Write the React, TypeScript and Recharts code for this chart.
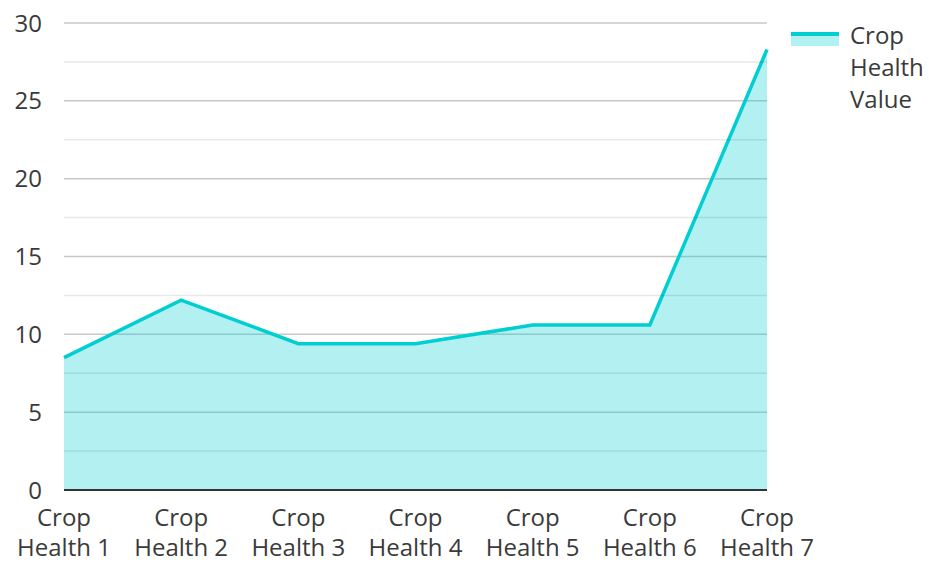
import React from 'react';
import { AreaChart, Area, XAxis, YAxis, CartesianGrid, Legend, ReferenceLine } from 'recharts';

const categories = ['Crop Health 1', 'Crop Health 2', 'Crop Health 3', 'Crop Health 4', 'Crop Health 5', 'Crop Health 6', 'Crop Health 7'];
const healthValues = [8.5, 12.2, 9.4, 9.4, 10.6, 10.6, 28.3];
const majorTicks = [0, 5, 10, 15, 20, 25, 30];
const minorTicks = [2.5, 7.5, 12.5, 17.5, 22.5, 27.5];

const data = categories.map((name, i) => ({ name, value: healthValues[i] }));

const FONT = '"Open Sans", "Noto Sans", sans-serif';
const TEXT = '#3a3a3a';
const LINE = '#00CED1';

const XTick = (props: any) => {
  const { x, y, payload } = props;
  const words = String(payload.value).split(' ');
  const first = words[0];
  const rest = words.slice(1).join(' ');
  return (
    <text x={x} y={y} textAnchor="middle" fill={TEXT} fontSize={24} fontFamily={FONT}>
      <tspan x={x} dy={28}>{first}</tspan>
      <tspan x={x} dy={30}>{rest}</tspan>
    </text>
  );
};

const LegendContent = () => (
  <div style={{ display: 'flex', alignItems: 'flex-start', fontFamily: FONT, fontSize: 24, color: TEXT }}>
    <svg width={50} height={30} style={{ marginTop: 6 }}>
      <rect x={1} y={10} width={48} height={12} fill={LINE} fillOpacity={0.3} />
      <line x1={1} y1={10} x2={49} y2={10} stroke={LINE} strokeWidth={4} />
    </svg>
    <div style={{ marginLeft: 10, lineHeight: '32px', width: 80, marginTop: 1 }}>
      Crop<br />Health<br />Value
    </div>
  </div>
);

export default function App() {
  return (
    <div style={{ position: 'absolute', left: 0, top: 0, background: '#fff' }}>
      <AreaChart width={929} height={562} data={data} margin={{ top: 23, right: 22, bottom: 0, left: 0 }}>
        <CartesianGrid vertical={false} stroke="#c8c8c8" strokeWidth={1.5} />
        {/* minor gridlines every 2.5 */}
        {minorTicks.map((v) => (
          <ReferenceLine key={v} y={v} stroke="#000" strokeOpacity={0.09} strokeWidth={1.5} />
        ))}
        <XAxis
          dataKey="name"
          height={72}
          tickLine={false}
          axisLine={{ stroke: '#333', strokeWidth: 2 }}
          tick={<XTick />}
          interval={0}
        />
        <YAxis
          width={64}
          domain={[0, 30]}
          ticks={majorTicks}
          tickLine={false}
          axisLine={false}
          tickMargin={16}
          tick={{ fill: TEXT, fontSize: 24, fontFamily: FONT }}
        />
        <Legend
          layout="horizontal"
          verticalAlign="middle"
          align="right"
          content={<LegendContent />}
          wrapperStyle={{ top: 18, left: 790, width: 140 }}
        />
        <Area
          type="linear"
          dataKey="value"
          name="Crop Health Value"
          stroke={LINE}
          strokeWidth={3.5}
          fill={LINE}
          fillOpacity={0.3}
          dot={false}
          activeDot={false}
          isAnimationActive={false}
        />
      </AreaChart>
    </div>
  );
}
